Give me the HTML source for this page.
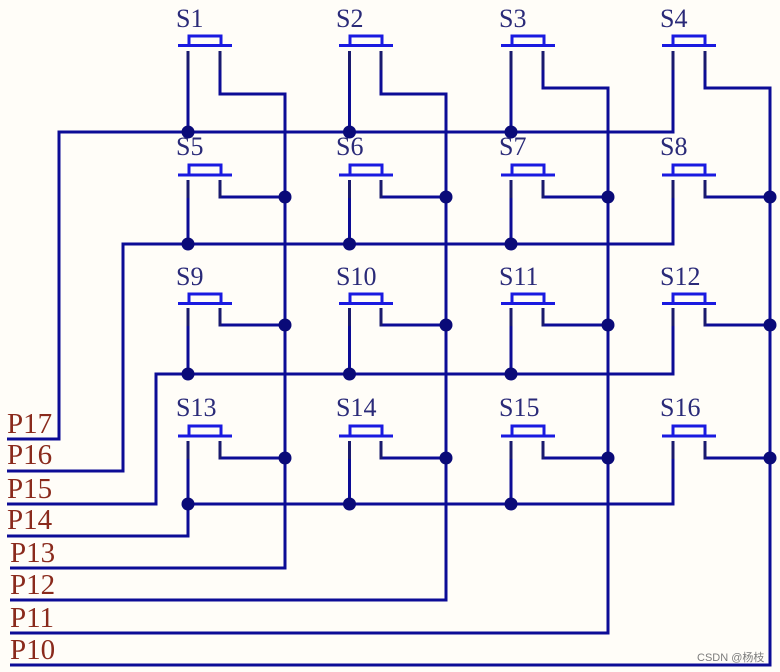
<!DOCTYPE html>
<html>
<head>
<meta charset="utf-8">
<style>
html,body{margin:0;padding:0;width:780px;height:672px;overflow:hidden;background:#fffdf8}
svg{display:block}
.w{fill:none;stroke:#0c0c96;stroke-width:3}
.b{fill:none;stroke:#1a1a6e;stroke-width:3}
.sw{fill:none;stroke:#1a1ae0;stroke-width:3}
.s{font-family:"Liberation Serif",serif;font-size:26px;fill:#2a2a78}
.l{font-family:"Liberation Serif",serif;font-size:29px;fill:#8a2a1c}
.d{fill:#0a0a78}
.wm{font-family:"Liberation Sans","Noto Sans CJK SC",sans-serif;font-size:11px;fill:#7c7c7c}
</style>
</head>
<body>
<svg width="780" height="672" viewBox="0 0 780 672" xmlns="http://www.w3.org/2000/svg">
<rect width="780" height="672" fill="#fffdf8"/>
<g class="w">
<path d="M7 439H59V132H673V70"/>
<path d="M7 471H123V244H673V195"/>
<path d="M7 504H156V374H673V323"/>
<path d="M7 536H188V455"/>
<path d="M188 504H673V455"/>
<path d="M188 70V132M349.500 70V132M511 70V132"/>
<path d="M188 195V244M349.500 195V244M511 195V244"/>
<path d="M188 323V374M349.500 323V374M511 323V374"/>
<path d="M349.500 455V504M511 455V504"/>
<path d="M220 70V94H285V568H10"/>
<path d="M381 70V94H446V600H10"/>
<path d="M543 70V88H608V633H10"/>
<path d="M705 70V88H770V665H10"/>
<path d="M220 195V197H285M381 195V197H446M543 195V197H608M705 195V197H770"/>
<path d="M220 323V325H285M381 323V325H446M543 323V325H608M705 323V325H770"/>
<path d="M220 455V458H285M381 455V458H446M543 455V458H608M705 455V458H770"/>
</g>
<g class="sw">
<path d="M178 45.500H232M189 45.500V36H221V45.500"/>
<path d="M339 45.500H393M350 45.500V36H382V45.500"/>
<path d="M501 45.500H555M512 45.500V36H544V45.500"/>
<path d="M662 45.500H716M673 45.500V36H705V45.500"/>
<path d="M178 175H232M189 175V165H221V175"/>
<path d="M339 175H393M350 175V165H382V175"/>
<path d="M501 175H555M512 175V165H544V175"/>
<path d="M662 175H716M673 175V165H705V175"/>
<path d="M178 303.500H232M189 303.500V294H221V303.500"/>
<path d="M339 303.500H393M350 303.500V294H382V303.500"/>
<path d="M501 303.500H555M512 303.500V294H544V303.500"/>
<path d="M662 303.500H716M673 303.500V294H705V303.500"/>
<path d="M178 436H232M189 436V426H221V436"/>
<path d="M339 436H393M350 436V426H382V436"/>
<path d="M501 436H555M512 436V426H544V436"/>
<path d="M662 436H716M673 436V426H705V436"/>
</g>
<g class="b">
<path d="M188 51V70M220 51V70M349.500 51V70M381 51V70M511 51V70M543 51V70M673 51V70M705 51V70"/>
<path d="M188 180V198M220 180V198M349.500 180V198M381 180V198M511 180V198M543 180V198M673 180V198M705 180V198"/>
<path d="M188 308V326M220 308V326M349.500 308V326M381 308V326M511 308V326M543 308V326M673 308V326M705 308V326"/>
<path d="M188 441V459M220 441V459M349.500 441V459M381 441V459M511 441V459M543 441V459M673 441V459M705 441V459"/>
</g>
<g class="d">
<circle cx="188" cy="132" r="6.500"/><circle cx="349.500" cy="132" r="6.500"/><circle cx="511" cy="132" r="6.500"/>
<circle cx="188" cy="244" r="6.500"/><circle cx="349.500" cy="244" r="6.500"/><circle cx="511" cy="244" r="6.500"/>
<circle cx="188" cy="374" r="6.500"/><circle cx="349.500" cy="374" r="6.500"/><circle cx="511" cy="374" r="6.500"/>
<circle cx="188" cy="504" r="6.500"/><circle cx="349.500" cy="504" r="6.500"/><circle cx="511" cy="504" r="6.500"/>
<circle cx="285" cy="197" r="6.500"/><circle cx="446" cy="197" r="6.500"/><circle cx="608" cy="197" r="6.500"/><circle cx="770" cy="197" r="6.500"/>
<circle cx="285" cy="325" r="6.500"/><circle cx="446" cy="325" r="6.500"/><circle cx="608" cy="325" r="6.500"/><circle cx="770" cy="325" r="6.500"/>
<circle cx="285" cy="458" r="6.500"/><circle cx="446" cy="458" r="6.500"/><circle cx="608" cy="458" r="6.500"/><circle cx="770" cy="458" r="6.500"/>
</g>
<g class="s">
<text x="176" y="27">S1</text><text x="336" y="27">S2</text><text x="499" y="27">S3</text><text x="660" y="27">S4</text>
<text x="176" y="155">S5</text><text x="336" y="155">S6</text><text x="499" y="155">S7</text><text x="660" y="155">S8</text>
<text x="176" y="285">S9</text><text x="336" y="285">S10</text><text x="499" y="285">S11</text><text x="660" y="285">S12</text>
<text x="176" y="416">S13</text><text x="336" y="416">S14</text><text x="499" y="416">S15</text><text x="660" y="416">S16</text>
</g>
<g class="l">
<text x="7" y="433">P17</text>
<text x="7" y="464">P16</text>
<text x="7" y="498">P15</text>
<text x="7" y="529">P14</text>
<text x="10" y="562">P13</text>
<text x="10" y="594">P12</text>
<text x="10" y="627">P11</text>
<text x="10" y="659">P10</text>
</g>
<text class="wm" x="697" y="661">CSDN @杨枝</text>
</svg>
</body>
</html>
